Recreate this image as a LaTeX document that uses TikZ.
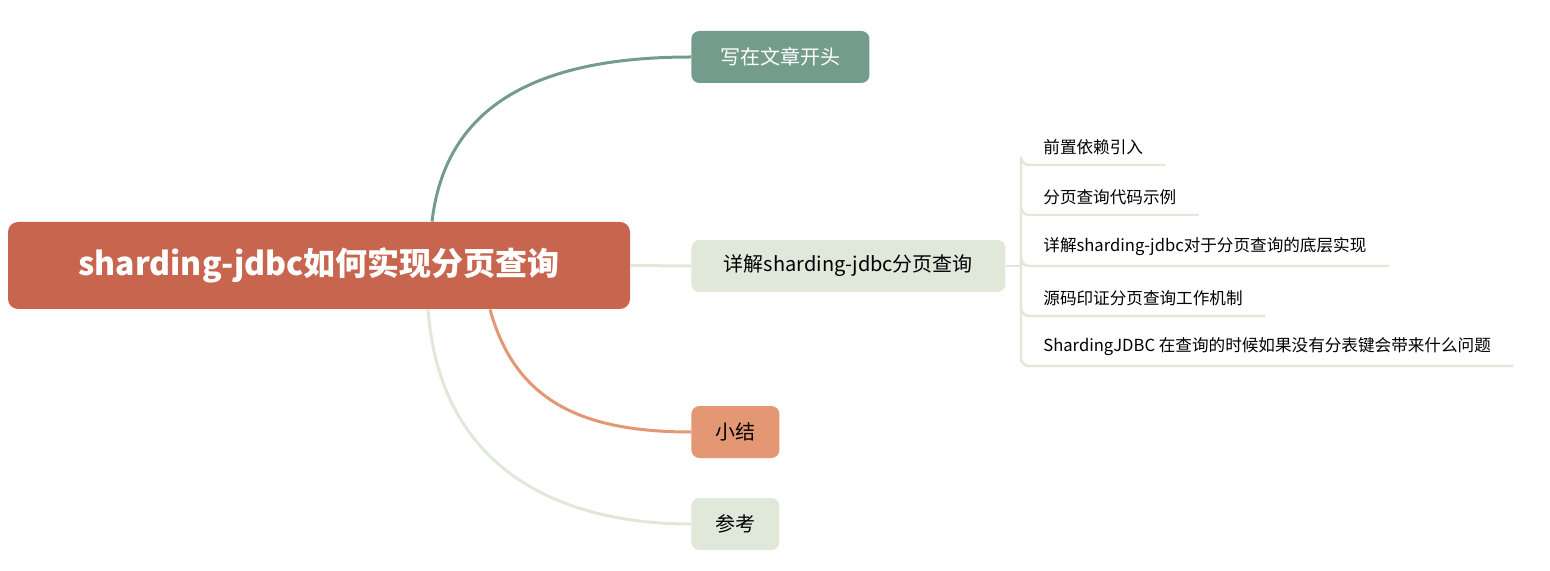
\documentclass[tikz,border=0pt]{standalone}
\usepackage{fontspec}
\setmainfont{Liberation Sans}
\newfontfamily\cjk{Noto Sans CJK SC}
\definecolor{rootc}{HTML}{C8654F}
\definecolor{teal}{HTML}{739C8C}
\definecolor{pale}{HTML}{E0E8D9}
\definecolor{orng}{HTML}{E39772}
\begin{document}
\begin{tikzpicture}[x=0.5pt,y=-0.5pt,
  br/.style={rounded corners=4pt,minimum height=26pt,inner xsep=9pt,font=\cjk\fontsize{10}{12}\selectfont,anchor=west},
  leaf/.style={anchor=south west,inner xsep=11pt,inner ysep=5pt,font=\cjk\fontsize{8.3}{10}\selectfont},
  lk/.style={line width=1.5pt}]
\useasboundingbox (0,0) rectangle (1550,571);
\node[fill=rootc,rounded corners=5pt,minimum width=311pt,minimum height=43.5pt,text=white,font=\cjk\bfseries\fontsize{16}{19}\selectfont] (root) at (319,265.5) {sharding-jdbc如何实现分页查询};
\node[br,fill=teal,text=white,minimum width=89pt] (a) at (691,57) {写在文章开头};
\node[br,fill=pale,minimum width=157pt] (b) at (691,266) {详解sharding-jdbc分页查询};
\node[br,fill=orng,minimum width=44pt] (c) at (691,432) {小结};
\node[br,fill=pale,minimum width=44pt] (d) at (691,524) {参考};
\draw[lk,teal] (root.north -| 432,0) .. controls (445,110) and (530,57) .. (a.west);
\draw[lk,orng] (root.south -| 490,0) .. controls (515,400) and (580,432) .. (c.west);
\draw[lk,pale] (root.south -| 428,0) .. controls (440,470) and (560,524) .. (d.west);
\draw[lk,pale] (root.east) -- (b.west);
\coordinate (j) at (1021,266);
\draw[pale,line width=1.2pt] (b.east) -- (j);
\foreach \n/\y/\t in {1/165/前置依赖引入,2/215/分页查询代码示例,3/266/详解sharding-jdbc对于分页查询的底层实现,4/316/源码印证分页查询工作机制,5/366/ShardingJDBC 在查询的时候如果没有分表键会带来什么问题}{
  \node[leaf] (s\n) at (1021,\y) {\t};
  \draw[pale,line width=1.2pt,rounded corners=4pt] (j) |- (s\n.south west) -- (s\n.south east);
}
\end{tikzpicture}
\end{document}
